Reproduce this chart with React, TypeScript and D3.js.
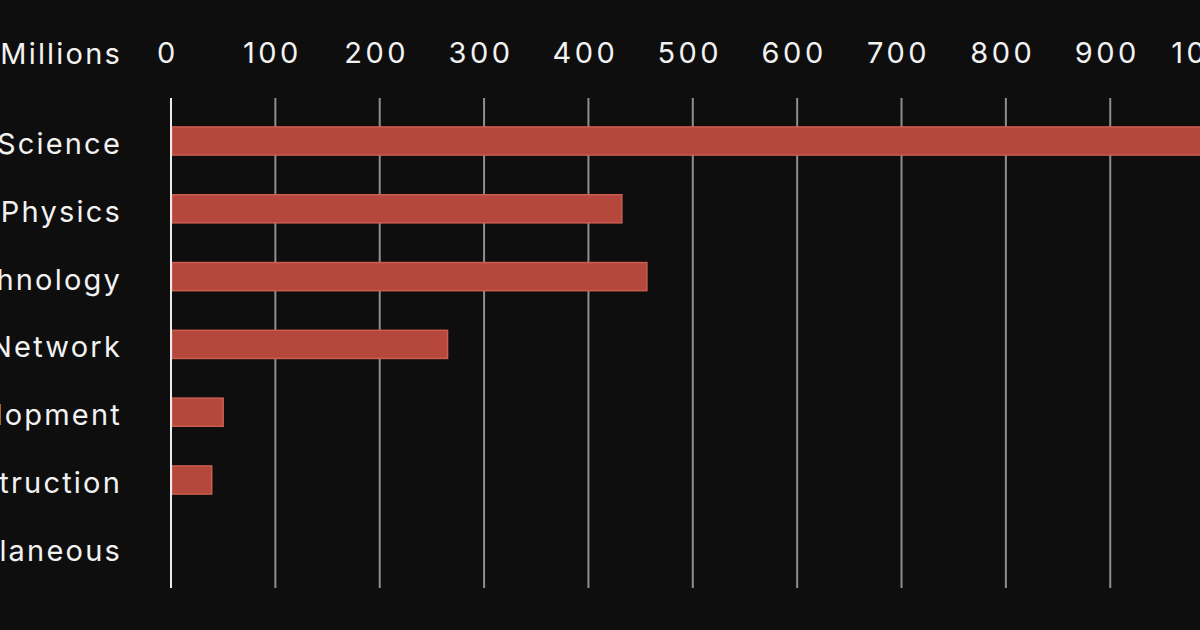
import { useMemo } from 'react'
import * as d3 from 'd3'

const categories = [
  'Computer Science',
  'Particle Physics',
  'Information Technology',
  'Network',
  'Research and Development',
  'Construction',
  'Miscellaneous',
]
const values = [1040, 432, 456, 265, 50, 39, 0]
const ticks = [0, 100, 200, 300, 400, 500, 600, 700, 800, 900, 1000]
const unitLabel = 'Millions'

const W = 1200
const H = 630
const FONT = 'Inter, "Noto Sans", sans-serif'
const TEXT = '#f2f2f2'

export default function App() {
  const x = useMemo(() => d3.scaleLinear().domain([0, 1000]).range([171, 1214.6]), [])
  const y = useMemo(
    () => d3.scaleBand<string>().domain(categories).range([107.1, 581.7]).paddingInner(0.585).paddingOuter(0.2925),
    []
  )
  const gridTop = 98
  const gridBottom = 588

  return (
    <svg
      width={W}
      height={H}
      style={{ position: 'fixed', left: 0, top: 0, display: 'block', background: '#0e0e0e', overflow: 'hidden' }}
    >
      <rect x={0} y={0} width={W} height={H} fill="#0e0e0e" />

      {/* grid */}
      {ticks.slice(1).map(t => (
        <line key={t} x1={x(t)} x2={x(t)} y1={gridTop} y2={gridBottom} stroke="#8f8f8f" strokeWidth={2} />
      ))}

      {/* tick labels */}
      {ticks.map(t => (
        <text
          key={t}
          x={x(t) - 3}
          y={63}
          textAnchor="middle"
          fill={TEXT}
          fontFamily={FONT}
          fontSize={29}
          letterSpacing={3.5}
        >
          {t}
        </text>
      ))}
      <text x={122} y={64} textAnchor="end" fill={TEXT} fontFamily={FONT} fontSize={29} letterSpacing={2.2}>
        {unitLabel}
      </text>

      {/* bars */}
      {categories.map((c, i) =>
        values[i] > 0 ? (
          <rect
            key={c}
            x={x(0) + 1}
            y={y(c)!}
            width={x(values[i]) - x(0) - 1}
            height={y.bandwidth()}
            fill="#b5473d"
            stroke="#cc5d4f"
            strokeWidth={1.5}
          />
        ) : null
      )}

      {/* category labels */}
      {categories.map(c => (
        <text
          key={c}
          x={122}
          y={y(c)! + y.bandwidth() / 2 + 13}
          textAnchor="end"
          fill={TEXT}
          fontFamily={FONT}
          fontSize={29}
          letterSpacing={2.2}
        >
          {c}
        </text>
      ))}

      {/* zero line */}
      <line x1={x(0)} x2={x(0)} y1={gridTop} y2={gridBottom} stroke="#ececec" strokeWidth={2} />
    </svg>
  )
}
